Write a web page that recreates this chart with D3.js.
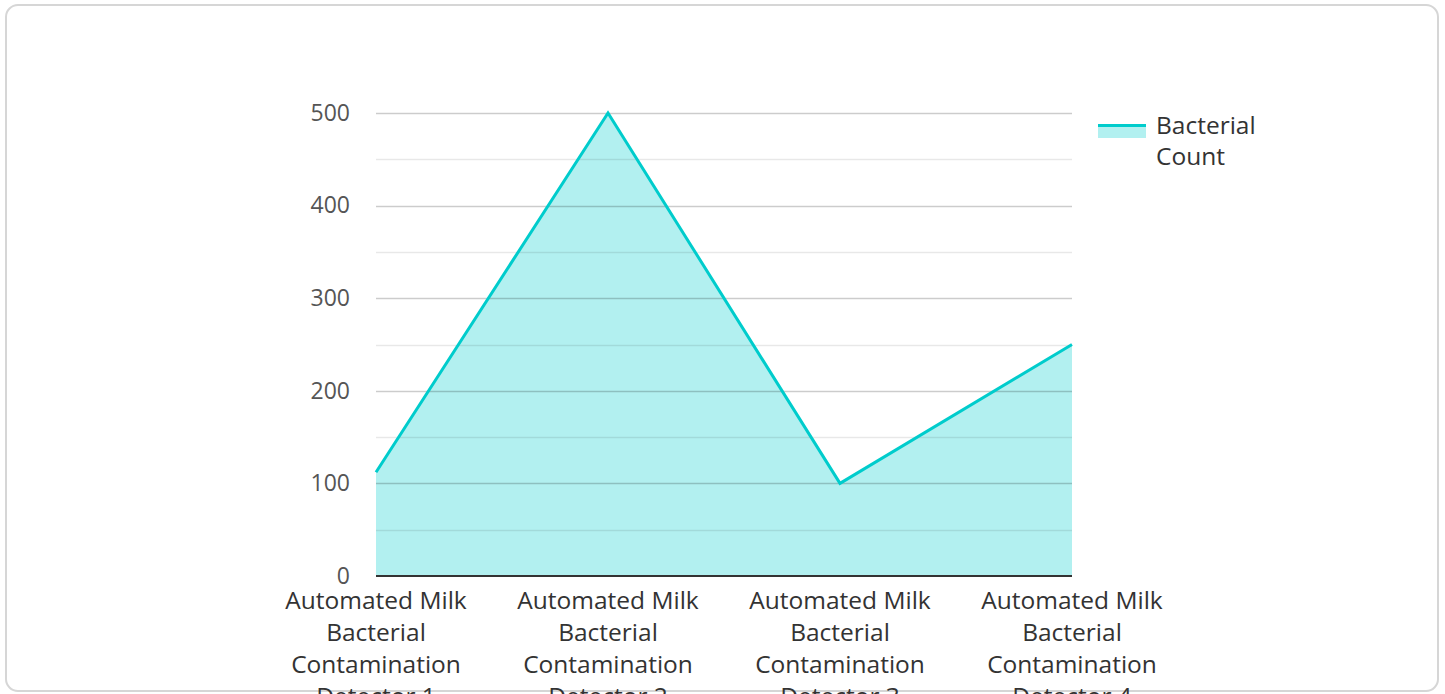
<!DOCTYPE html>
<html>
<head>
<meta charset="utf-8">
<script src="https://cdn.jsdelivr.net/npm/d3@7"></script>
<style>
  html, body { margin: 0; padding: 0; background: #fff; overflow: hidden; }
  body { width: 1445px; height: 694px; font-family: "Open Sans", sans-serif; }
  .card {
    position: absolute; left: 5px; top: 4px; width: 1434px; height: 688px;
    border: 2px solid #d6d6d6; border-radius: 13px; box-sizing: border-box;
  }
  svg { position: absolute; left: 0; top: 0; }
</style>
</head>
<body>
<div class="card"></div>
<svg id="chart" width="1445" height="694"></svg>
<script>
// Detector names and their measured bacterial counts
const categories = [
  "Automated Milk Bacterial Contamination Detector 1",
  "Automated Milk Bacterial Contamination Detector 2",
  "Automated Milk Bacterial Contamination Detector 3",
  "Automated Milk Bacterial Contamination Detector 4"
];
const seriesName = ["Bacterial", "Count"];
const bacterialCount = [112, 500, 100, 250];
const majorTicks = [0, 100, 200, 300, 400, 500];
const minorTicks = [50, 150, 250, 350, 450];

const lineColor = "#00cccc";
const fillColor = "rgba(0, 204, 204, 0.3)";
const fontSize = 24.5;

const svg = d3.select("#chart");
const plot = { left: 376, right: 1072, top: 113, bottom: 576 };

const x = d3.scalePoint().domain(categories).range([plot.left, plot.right]);
const y = d3.scaleLinear().domain([0, 500]).range([plot.bottom, plot.top]);

const data = categories.map((c, i) => ({ cat: c, value: bacterialCount[i] }));

// Filled area and outline
const area = d3.area().x(d => x(d.cat)).y0(y(0)).y1(d => y(d.value));
const line = d3.line().x(d => x(d.cat)).y(d => y(d.value));

svg.append("path").datum(data).attr("d", area).attr("fill", fillColor);

// Gridlines sit on top of the fill, semi-transparent
const grid = svg.append("g");
grid.selectAll("line.minor").data(minorTicks).join("line")
  .attr("x1", plot.left).attr("x2", plot.right)
  .attr("y1", d => Math.round(y(d)) + 0.5).attr("y2", d => Math.round(y(d)) + 0.5)
  .attr("stroke", "rgba(0,0,0,0.09)").attr("stroke-width", 1.5);
grid.selectAll("line.major").data(majorTicks.filter(t => t > 0)).join("line")
  .attr("x1", plot.left).attr("x2", plot.right)
  .attr("y1", d => Math.round(y(d)) + 0.5).attr("y2", d => Math.round(y(d)) + 0.5)
  .attr("stroke", "rgba(0,0,0,0.2)").attr("stroke-width", 1.5);

svg.append("path").datum(data).attr("d", line)
  .attr("fill", "none").attr("stroke", lineColor)
  .attr("stroke-width", 3).attr("stroke-linejoin", "miter");

// Baseline
svg.append("line")
  .attr("x1", plot.left).attr("x2", plot.right)
  .attr("y1", y(0)).attr("y2", y(0))
  .attr("stroke", "#333").attr("stroke-width", 2);

// Y axis labels
const yAxis = d3.axisLeft(y).tickValues(majorTicks).tickSize(0).tickPadding(26);
const yg = svg.append("g").attr("transform", `translate(${plot.left},0)`).call(yAxis);
yg.select(".domain").remove();
yg.selectAll("text")
  .attr("font-family", "Open Sans").attr("font-size", 23).attr("fill", "#555");

// X axis labels, wrapped onto several lines
function wrapLabel(text) {
  const words = text.split(" ");
  const lines = [];
  let cur = "";
  const maxChars = 15;
  words.forEach(w => {
    const next = cur ? cur + " " + w : w;
    if (next.length > maxChars && cur) { lines.push(cur); cur = w; }
    else cur = next;
  });
  if (cur) lines.push(cur);
  return lines;
}
const xg = svg.append("g");
categories.forEach(c => {
  const t = xg.append("text")
    .attr("x", x(c)).attr("y", 609)
    .attr("text-anchor", "middle")
    .attr("font-family", "Open Sans").attr("font-size", fontSize).attr("fill", "#333");
  wrapLabel(c).forEach((ln, i) => {
    t.append("tspan").attr("x", x(c)).attr("dy", i === 0 ? 0 : 32).text(ln);
  });
});

// Legend
const lg = svg.append("g").attr("transform", "translate(1098,124)");
lg.append("rect").attr("x", 0).attr("y", 1).attr("width", 48).attr("height", 13).attr("fill", fillColor);
lg.append("line").attr("x1", 0).attr("x2", 48).attr("y1", 1.5).attr("y2", 1.5)
  .attr("stroke", lineColor).attr("stroke-width", 3);
const lt = lg.append("text").attr("x", 58).attr("y", 10)
  .attr("font-family", "Open Sans").attr("font-size", fontSize).attr("fill", "#333");
seriesName.forEach((ln, i) => {
  lt.append("tspan").attr("x", 58).attr("dy", i === 0 ? 0 : 31).text(ln);
});
</script>
</body>
</html>
